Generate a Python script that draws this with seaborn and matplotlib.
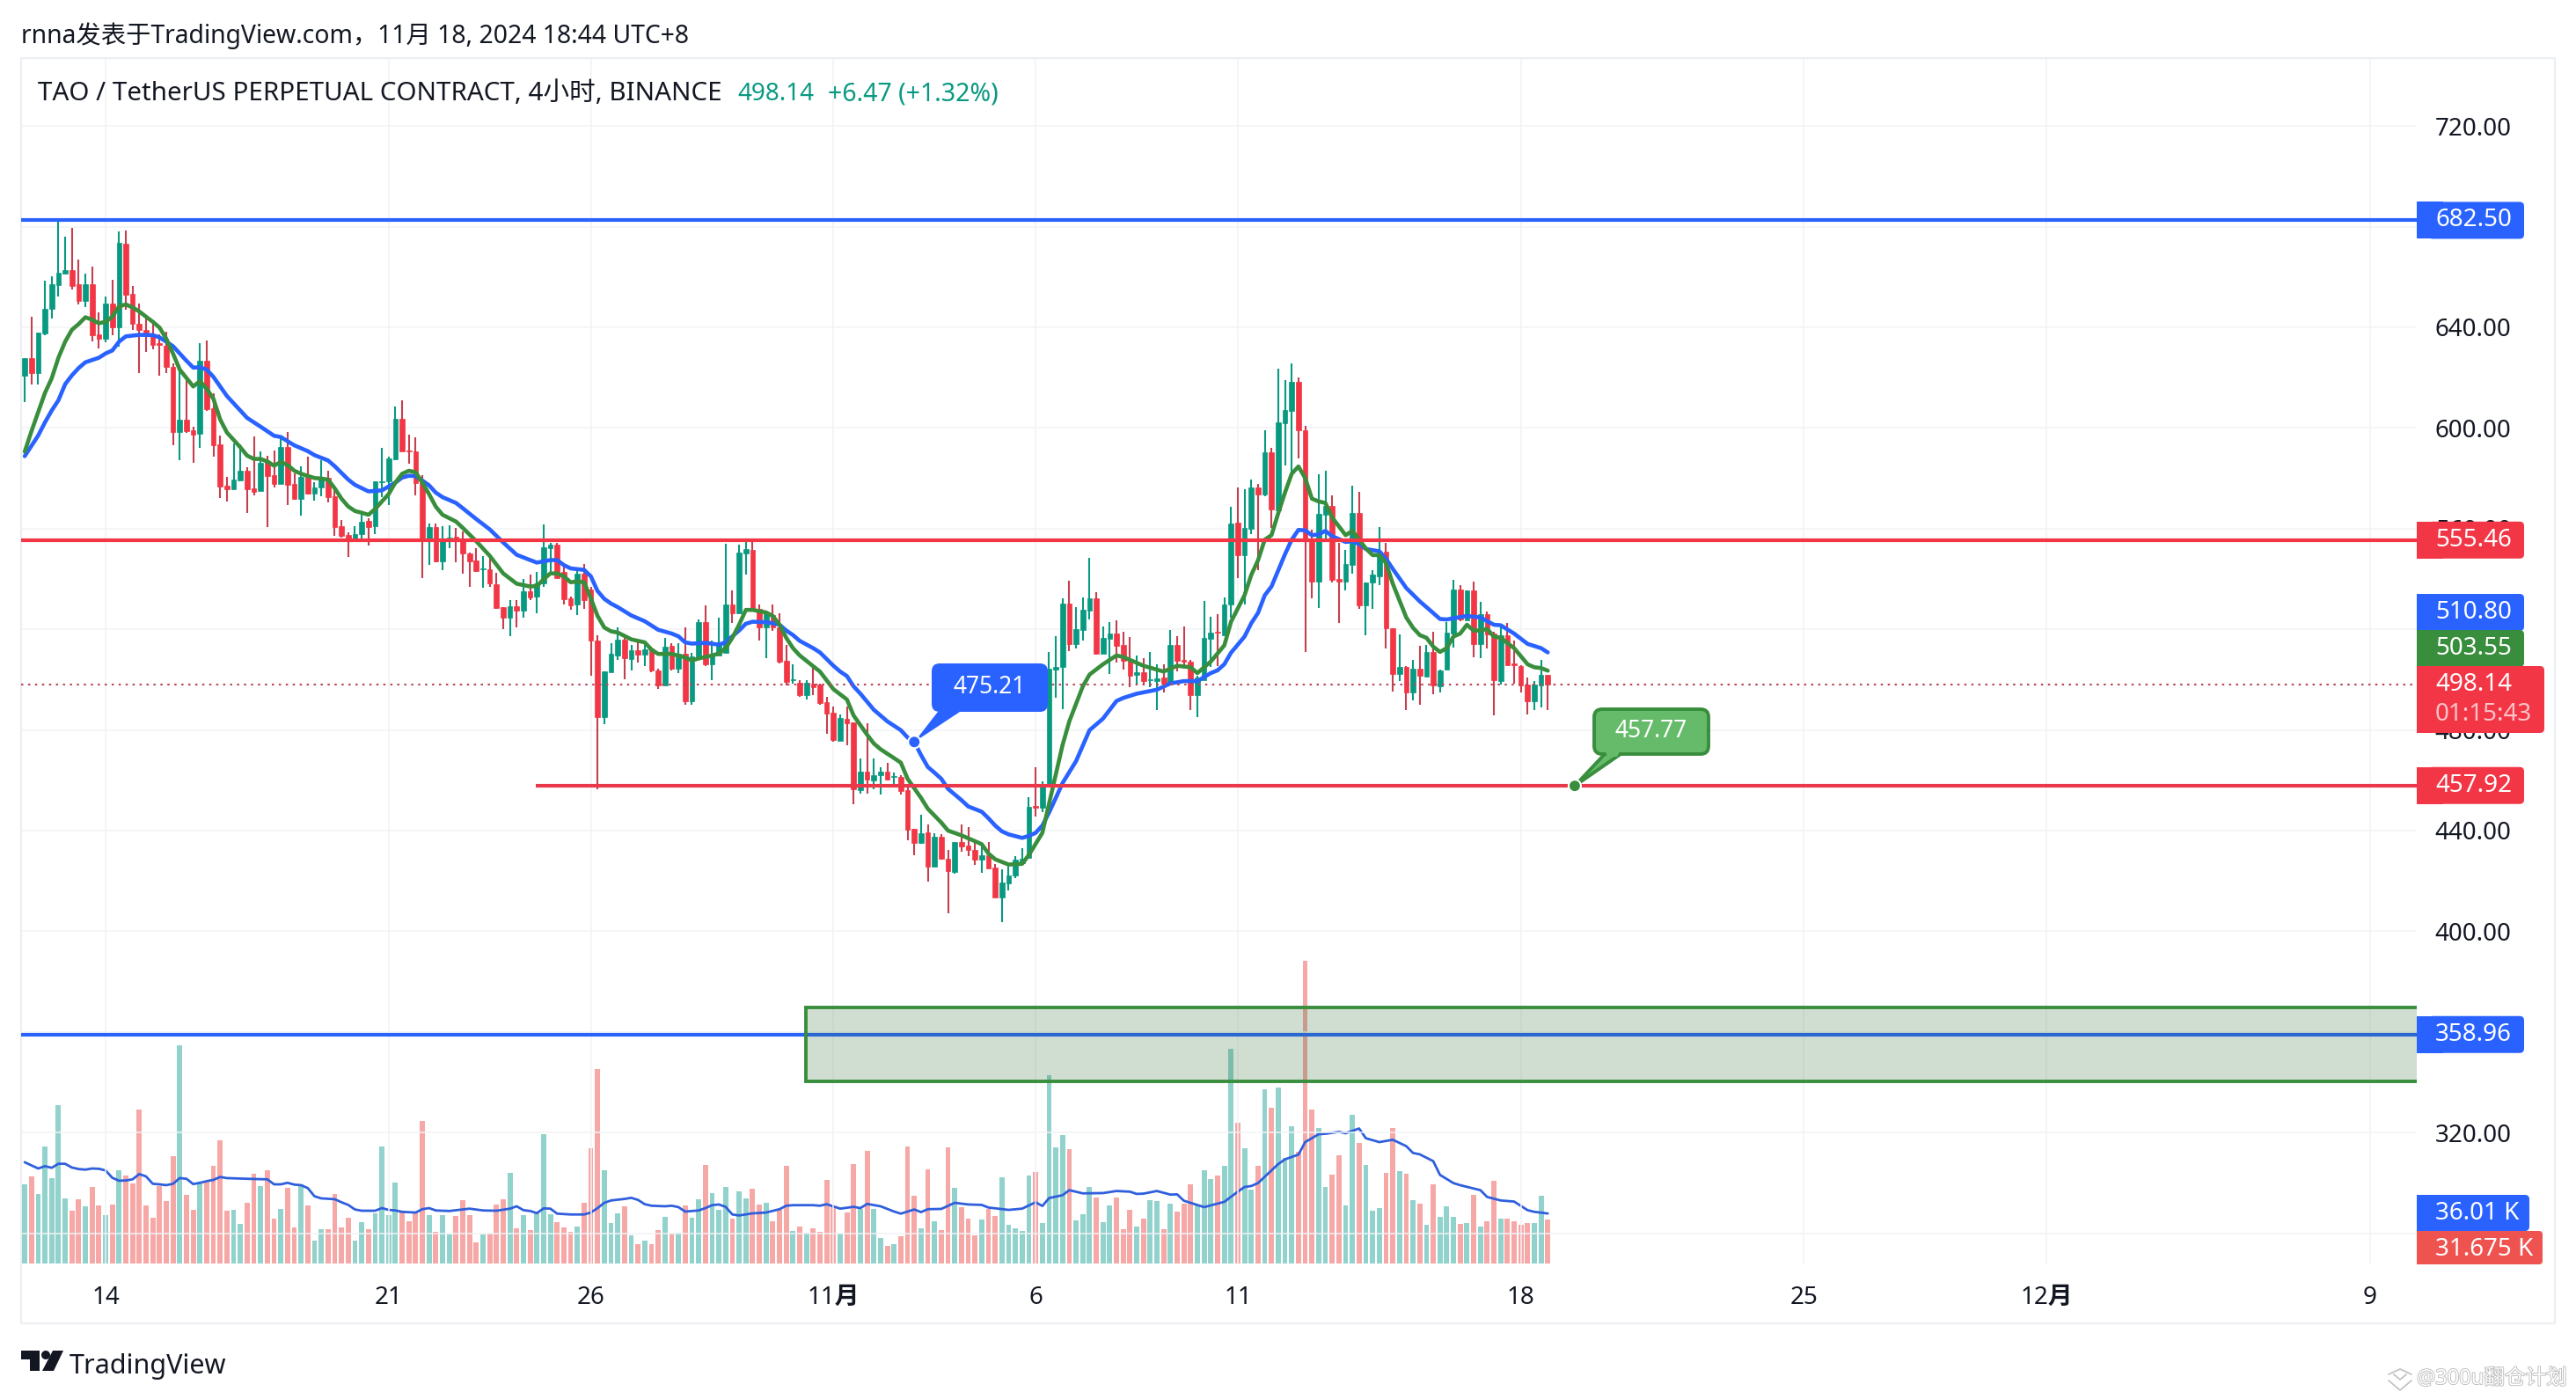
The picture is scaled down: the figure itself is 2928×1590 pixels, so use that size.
import matplotlib
matplotlib.use("Agg")
import matplotlib.pyplot as plt
import matplotlib.patheffects as pe
from matplotlib.patches import Rectangle, Polygon, FancyBboxPatch, Circle
from matplotlib.transforms import IdentityTransform
import numpy as np
import pandas as pd
import seaborn as sns

# ---------- data ----------
opens = [620.7,627.6,621.8,637.4,647.5,656.8,661.4,662.6,657,650.6,
657,637.1,635.6,649.3,640,673.3,653.2,641.5,639,637.2,
633.7,632.8,624.1,598.5,603.4,599,597.8,626.7,607.8,593.5,
577.1,575.8,579.3,583,576,574.9,586.5,581.3,577.8,592.3,
577.8,571.9,580.7,574,576.2,580.3,572.8,560.9,557.4,555.4,
557.7,563,561.1,578.3,578.7,587.7,603.6,591.2,590.6,578.3,
555,560.6,546.9,555.4,556.8,555.6,550.1,547.5,543.7,543.7,
537.9,528.8,524.7,529,527.3,535,532.9,538.1,552.1,553.6,
542.8,532.3,529.8,542.2,535.8,515.4,485.1,503,509.6,516,
508.2,511.7,510,512.5,503.8,497.6,513.4,504.3,510.4,491.3,
509,522.8,506.1,509.6,510.8,530,526.3,550,551.5,528,
520.9,525.6,520.9,507.4,499.7,498.8,493.9,498.5,498,491,
486.9,475.8,484.5,483.1,456,463.5,459.8,462.2,463.5,461.5,
461.5,456,440.6,435.2,439.3,425.7,437.7,428.9,423.6,435.6,
434.1,432.4,428.4,430.1,425.3,413.4,419,422,427.2,429.2,
449.8,449,457.9,504,504.9,530.2,514.2,519.8,527.4,532.3,
510.4,516.3,518.3,513.9,507.8,502,502.9,499.7,499.4,500.8,
498.5,513.6,507.8,507.2,493.8,499.7,516.3,518.9,517.7,529.7,
562.3,549.5,560,576.4,573.4,590.2,567.3,602,606.9,618.3,
599,555.6,539.1,565.5,569,539.9,539.1,545.7,566.1,529.4,
538.5,541,550.7,520.4,502.4,504.9,495,504.3,501.2,511.1,
497.3,504.1,518.3,535.8,523.6,535.4,514,526.1,518.3,499.4,
517.7,506.3,505.5,497.9,491.5,497.6,501.8]

highs = [627.9,644.2,637.8,658.4,660.2,682.7,675.9,679.4,666.8,661.2,
664,646,652.1,658.8,678,678.3,656.3,649.4,643.6,642.8,
637.2,638.4,625.8,625,618.9,600.5,633.7,634.6,613.9,597,
580.7,593.7,593.5,584.4,596.6,590.6,588.8,591.1,595.8,598.5,
581.8,584.8,588.5,578.3,587.1,583,575.4,563.4,558.5,560.9,
565.5,564,578.7,592,588.5,608.4,610.9,597.3,596.2,581.3,
562,562,561.1,561.2,560.3,558.9,550.4,552.1,549.2,549.2,
542.4,528.8,531.7,531.7,539.9,541.6,542.8,561.7,554.4,554.4,
546.3,532.9,544,546,537,517.7,503.2,514.3,520.9,516.6,
513.9,514.8,515.4,513.1,504.3,516.6,514.5,514.5,520.7,510.8,
523.9,529.4,515.4,524.7,553.9,535.4,553.5,555,555,529.8,
526.7,529.8,526.3,513.7,506.1,499.7,499.7,505.5,498.5,493,
489.2,486,489.2,483.1,468.8,482.8,468.8,465.1,466.8,463,
462.2,457.7,440.6,446.4,442.6,439.1,438.5,432.3,435.6,442.6,
441.4,435.6,433.8,435.6,426.8,424.5,426,429.8,433,453.4,
465.1,459.5,511,517.1,532.3,539.3,528.8,532.5,548.4,534.6,
521,522.7,523.6,518.9,516.9,509.6,508.4,511,506.1,506.1,
519.7,517.1,521.2,507.8,501.4,531.1,525,525.9,532.5,568.7,
576.4,575.7,579.5,577.8,599.1,592.1,623.6,618.9,625.5,619.9,
600.7,559.7,581.5,583,573.1,554.2,551.5,576.9,574.5,538.5,
543.4,560.5,554.2,520.4,518,505.3,507.8,513.3,513.9,518.9,
504.1,523,539.5,537.4,535.4,539.1,530.8,527,518.9,520.6,
522.6,515.4,505.7,500.8,499.4,508,502]

lows = [610.2,617.2,617.2,637,643.6,652.4,661.4,654.9,649.1,648.2,
634.5,631.7,634,637,632.2,647.1,639,621.8,630.2,631.4,
620.9,621.8,593.1,587.3,598.2,586.3,592,606.9,588.5,572.3,
570.8,575.8,579.3,566.3,573.1,574.9,560.6,576.4,577.8,569.3,
571.4,565.3,573.4,571,572.8,570.5,557.1,556.6,548.6,555,
555.6,553.3,558,572.5,569.3,587.3,590.8,585.9,573.3,540.5,
545.7,546.6,543.4,552.4,546.5,542.2,536.7,542.8,536.4,537,
528.2,520.1,517.1,520.7,524.5,531.7,526.5,537,541.6,540.2,
529.8,527.6,525.5,528.2,501.4,456.6,482.2,503,507.8,500.3,
503.8,506.7,505.3,503,496.4,497.6,503.8,502.6,490.1,490.1,
508.8,505.3,499.7,509.6,510.8,522.4,526.3,541.6,527.7,515.6,
508.4,519.5,506.4,497.6,498.3,493.3,492.1,493.9,490.1,478.5,
475.2,475.8,474,450.4,454.6,454.8,456.6,454.5,460.1,457.4,
454.2,436,430.1,434.8,419.8,425.7,428.6,407.3,422.8,431.5,
429.8,426.5,423.1,424.9,413.4,403.5,416.1,421,426.8,429.2,
445.7,447.2,457.7,492.9,488.4,511.3,512.5,515.4,523.9,509.9,
510.4,502.2,506.7,504.1,497.1,498.5,497.9,497.1,487.8,495,
498.5,503.2,504.3,488,485.1,499.7,504.9,505.5,517.7,524.7,
540.5,530,557.9,543.4,573,560.3,567.3,585.1,582.4,588,
511.1,532.3,528.6,555.6,538.7,522.4,535.6,542.2,528.2,517.7,
528.2,537.5,512.5,495.3,499.4,487.8,491.9,490.1,501.2,494.1,
495,504.1,512.8,523.3,523.6,508.8,508.4,512.5,485.7,497.9,
505.3,498.5,495,486,488,488.9,488]

closes = [627.9,621.8,637.8,647.5,657,661.7,662.6,656.4,650.6,657,
637,635.6,649.3,640.1,673.6,652.9,641.5,639,636.9,633.1,
633.1,624.1,598.5,603.4,598.8,597.3,626.7,607.5,593.3,576.8,
575.7,579.5,583,575.8,574.6,586.3,581,577.8,592.3,577.5,
571.7,580.7,573.9,576.4,580.3,572.5,560.7,557,555.6,557.7,
562.8,560.6,578.7,578.9,588,603.6,590.8,590.8,578,555.6,
560.6,547.1,555.9,556.6,555.4,550,547.1,543,544.2,538.1,
528.6,524.7,529,527.3,535,532.5,538.4,552.5,553.6,540.5,
532.1,529.6,542.2,531.7,515.4,485.1,503.2,510.4,515.8,508.4,
511.7,510,512.2,503.5,497.6,513.1,504.3,510.4,491.3,509.2,
522.8,506.1,509.6,514.8,530,526.3,550.4,551.9,528,520.9,
526.5,520.7,507.3,499.1,500,493.9,498.8,497.1,490.7,486.6,
476.1,484.8,482.8,456.6,463.5,460.3,462.2,463.5,460.3,461.7,
455.7,440.5,435.2,439.1,425.7,437.7,428.9,423.9,435.3,433.8,
432.4,428.4,430.1,425.1,413.4,419.3,422.2,428.4,428.8,449.3,
449.2,457.7,504.3,504.9,530.2,514.2,520.1,527.6,532.3,510.2,
516.6,518.3,513.4,507.6,501.6,502.9,499.3,500.1,500.6,498.5,
513.6,507.6,507.2,493.8,500.8,516.6,518.5,518.5,529.7,562,
549.5,560.3,576.4,573.7,590.2,567.5,602.2,607.1,618.3,599,
555,539.1,565.9,569,539.5,539.1,545.9,566.1,529.4,538.5,
541.6,550.7,520.3,502.2,504.9,495,504.3,501.4,511.1,497.6,
503.7,518.5,535.8,523.9,535.4,514.2,526.1,518.1,499.7,517.7,
505.7,505.7,497.6,491.5,497.9,501.8,498.14]

volumes = [56.8,62.5,49.8,84.1,61.2,113.8,46.7,37.8,46.0,41.0,
54.9,41.6,34.6,42.2,67.0,63.1,57.4,110.7,41.6,32.7,
55.5,44.8,77.1,156.9,49.2,38.4,57.4,58.7,70.1,88.5,
37.8,38.4,28.3,43.5,64.4,55.5,67.0,32.1,39.1,54.3,
25.8,56.8,41.6,16.3,24.5,24.5,49.8,25.8,32.7,16.3,
29.6,24.5,35.9,84.1,34.6,58.1,36.5,30.2,36.5,102.4,
34.6,22.6,34.6,20.7,34.0,45.4,34.6,15.0,20.7,21.3,
42.2,46.0,65.0,25.1,34.6,23.9,36.5,92.9,35.3,29.6,
25.8,22.6,26.4,43.5,82.8,139.8,67.0,28.9,35.9,41.0,
20.1,13.7,16.3,13.7,23.9,33.4,21.3,22.0,41.6,32.7,
46.0,70.8,50.5,38.4,54.9,32.1,51.7,46.7,53.6,42.2,
43.5,30.2,38.4,70.1,23.7,26.8,22.0,25.1,22.6,60.0,
41.2,21.3,36.5,71.4,39.5,80.9,39.1,18.2,12.5,13.7,
19.4,84.1,48.6,25.1,67.6,30.2,23.9,83.4,54.3,40.3,
32.1,20.1,31.5,39.5,34.0,61.9,27.7,25.1,23.2,63.1,
65.7,28.9,135.6,83.4,92.3,82.2,30.8,35.3,54.9,47.3,
29.6,41.6,47.3,24.5,38.4,26.4,32.1,45.4,44.8,24.5,
42.9,37.2,42.9,56.8,41.6,67.0,60.6,63.1,70.1,154.4,
101.2,82.8,53.0,70.1,125.2,111.9,126.5,75.8,98.6,80.3,
217.7,110.7,97.4,54.9,63.8,77.7,41.6,106.9,86.6,70.8,
37.8,39.7,65.0,97.4,66.3,64.4,45.4,42.9,27.7,56.8,
33.4,41.0,33.4,28.3,28.9,49.2,26.4,30.2,59.3,32.1,
32.1,30.2,27.7,28.9,28.9,48.6,31.675]

slow_idx = [0,1,2,3,4,5,6,7,8,9,10,11,12,13,14,15,17,19,20,21,22,24,25,26,27,28,30,31,33,35,37,38,40,42,43,45,46,48,49,51,53,55,56,57,58,59,60,61,62,64,65,67,69,71,73,
75,76,78,79,80,81,83,84,85,86,87,88,90,92,94,96,97,98,99,101,103,104,105,106,107,108,110,111,112,113,114,115,117,118,120,121,122,123,124,126,128,130,131,132,133,134,135,136,137,139,140,142,143,144,145,146,148,149,150,151,152,153,154,
156,158,160,162,163,165,168,170,172,174,176,177,178,179,181,182,183,184,185,186,187,188,189,190,191,192,193,194,196,197,198,199,201,202,203,205,207,208,210,211,212,214,216,218,219,221,223,225,226]
slow_ema = [588.8,592.9,597,602.2,606.9,611,617.4,620.9,623.8,626.1,627,627.9,629.6,630.8,634.3,636.4,637,636.9,636,634.3,632.5,626.7,624,624.1,623.2,620.3,612.7,609.8,604,600.5,596.9,596.4,593.1,590.8,589.2,587.1,584.8,579.5,577.4,574.8,575.2,578.3,580.3,581,580.9,579.1,577.2,574.3,572.5,570.2,568.1,563.8,559.7,554.5,549.6,
547.5,546.5,547.5,547.5,545.5,544.2,543.6,541.05,535.2,532.1,530.2,528.8,525.5,523.2,519.8,518.3,517.2,514.8,514.3,514.6,513.9,514.8,517.2,519.5,522.2,523,522.8,522.4,521.8,519.5,517.7,515.4,512.5,510.8,505.5,503.2,501.4,497.3,494.4,488,483.4,479.9,477,475.21,470,465.3,463,460.6,456.6,452.1,449.6,447.5,444.9,442,439.7,438.5,437.1,437.9,439.1,442,447.2,453,458.9,
467.6,479.9,484.5,491.5,492.7,494.4,496,498.5,499.4,499.4,502.6,503.7,506.1,510.7,517.1,522.4,526.5,533.5,537,543.4,549.8,555.6,559.5,559.3,557.4,557.7,559.1,557,554.7,555,553.9,551.9,551,548,544,536.4,531.1,528.8,524.1,523.9,524.4,525.3,524.7,521.8,521.6,518.3,514.2,512.5,510.8]

fast_idx = [0,1,2,3,4,5,6,7,8,9,10,11,12,13,14,15,16,17,18,19,20,21,22,23,25,26,27,28,29,30,32,33,34,35,36,37,38,39,40,41,43,44,45,46,47,48,49,50,51,52,53,54,55,56,57,58,59,60,61,62,64,65,67,69,70,71,73,
75,76,77,78,79,80,81,82,83,84,85,86,87,88,90,92,93,94,96,98,99,100,102,103,104,105,106,107,108,110,111,112,113,114,115,117,118,119,120,122,123,125,126,127,129,130,131,133,134,136,137,139,141,142,143,144,146,148,149,151,152,153,154,155,156,157,
158,160,162,163,166,169,171,173,174,176,178,179,181,182,183,184,185,186,187,188,189,190,191,192,193,194,195,196,197,198,199,200,201,202,203,205,206,207,208,209,210,211,212,213,214,215,216,217,218,219,221,223,224,225,226]
fast_ema = [590.6,598.7,606.3,613.9,619.7,627.9,634.3,639,641.3,644,643,641.6,642.2,644.2,648.3,649.1,647.9,646.3,644.2,642.2,639.9,635.5,629.6,623.2,616.5,618.6,615.6,611.6,603.4,598.2,592.3,589,587.7,587.7,586.7,585,586.5,585.3,583,581.8,580.1,579.9,579.5,576,571.9,568.8,567,566.3,565.5,567.8,570.8,573.7,578.3,581.8,583,582.4,578.3,573.7,568.7,565.5,562.8,560.3,555,549.2,545.7,542.2,538.1,
537,537.2,539.9,542.2,542.2,541.05,538.7,539,538.7,532.3,525.3,520.7,519.2,518.7,516,514.8,511.9,510.2,510.2,508.8,507.6,508.4,509.6,510.4,512.5,516.6,521.8,527.7,527.7,526.7,525.3,521.8,516.6,512.5,509.6,505.3,503.2,499.7,496.2,492.1,485.7,478.1,474.6,472.3,468.8,467,460.6,453,448.7,443.2,440,438.1,435.8,434.6,430.9,428.6,426.5,426.8,430.3,439.1,450.7,462.4,474,483.4,490.4,497.3,
502,506.1,509.6,509,505.5,503.2,505.5,504.9,502.6,507.2,513.6,523,533.5,541.6,547.4,555.6,557.4,566.1,574.3,581.8,584.7,580.1,571.9,570.8,570.2,564.4,560.9,557.4,559.1,555.6,552.1,549.5,549.5,546.3,538.1,524.7,520.6,517.7,516.6,513.1,511,512.5,517.1,518.3,521.8,519.5,519.5,520.1,517.1,516.6,512.5,506.1,504.9,504.6,503.55]

volma_idx = [0,2,3,4,5,6,7,8,9,10,11,12,13,14,15,16,17,18,19,20,21,22,23,24,25,26,27,28,29,30,33,36,37,38,39,40,41,42,43,44,46,47,48,49,50,52,53,54,55,56,58,59,60,61,63,65,66,68,70,72,73,74,75,76,77,78,79,81,83,84,85,86,87,89,90,91,92,93,95,96,97,98,100,101,102,103,104,105,106,108,110,112,113,
114,117,118,119,121,123,124,125,127,129,130,132,133,134,136,138,140,142,143,146,148,150,151,152,154,155,157,160,162,164,165,166,168,170,171,172,175,178,180,181,182,183,186,187,189,190,192,193,195,196,198,199,201,203,205,206,207,209,210,212,213,216,217,219,221,223,224,226]
volma = [72.9,68.4,70.1,68.9,71.8,71.8,69.1,68,67.6,68.4,68.2,67,61.7,59.6,59.8,60.6,64.4,62.7,57.4,57,56.4,57.4,61.5,61,57.2,58.1,59.3,60.2,62.3,61.5,61,60.6,57,57,58.1,56.8,56.4,54.3,48.4,46.9,46.3,44.1,42.2,38.9,38,38,39.9,38.6,38.2,37.2,36.7,39.1,39.9,38.2,37.8,38.9,39.5,38.2,38,39.5,41.2,38.4,37.8,36.3,39.7,39.5,35.9,35.3,35.3,36.7,39.9,43.7,45.4,46.5,47.3,45.8,42.7,41.6,41.2,41.6,40.6,37.4,38.2,39.9,42,42.5,40.8,35.3,34.6,36.1,36.7,39.1,41.6,
42,42,41.6,42.7,39.5,40.8,39.9,42.9,41.2,37.4,35.9,38.9,37,39.1,39.3,43.7,42.5,42.2,40.3,38.6,39.5,44.1,41.4,47.1,49.2,52.8,50.5,50.7,52.2,51.7,50.1,50.3,52.2,49.6,49.8,45.2,40.6,44.4,51.7,55.1,55.8,57.9,71.6,75,78.4,87.4,93.1,93.4,94.8,93.8,97.2,90.2,87.4,89.1,84.5,79.6,78.6,73.7,63.8,57.9,56.4,52.8,47.9,45.4,44.6,38.4,37.2,36.01]

price_ticks = [720,680,640,600,560,520,480,440,400,360,320,280]
date_ticks = [12,54,84,120,150,180,222,264,300,348]
date_labels = ['14','21','26','11月','6','11','18','25','12月','9']
bold_dates = ['11月','12月']

level_top = 682.50
level_mid = 555.46
level_low = 457.92
level_base = 358.96
zone_high = 369.7
zone_low = 340.4
last_price = 498.14

GREEN = '#089981'
RED = '#f23645'
BLUE = '#2962ff'
EMA_GREEN = '#388e3c'
TXT = '#131722'
GRID = '#f1f2f5'

# ---------- figure ----------
sns.set_theme(style='white')
FONT = ['Noto Sans', 'Noto Sans CJK SC', 'DejaVu Sans']
plt.rcParams['font.family'] = FONT
W, H = 2928, 1590
fig = plt.figure(figsize=(W/100, H/100), dpi=100, facecolor='white')
ax = fig.add_axes([24/W, (H-1437)/H, 2723/W, 1371/H])
ax2 = ax.twinx()
ax.set_zorder(2); ax2.set_zorder(1); ax.patch.set_visible(False)

idx = np.arange(len(closes))
frame = pd.DataFrame({'i': idx, 'open': opens, 'high': highs, 'low': lows, 'close': closes, 'vol': volumes})
frame['dir'] = np.where(frame['close'] >= frame['open'], 'up', 'down')

# volume
sns.barplot(data=frame, x='i', y='vol', hue='dir', native_scale=True, dodge=False, width=0.76,
            palette={'up': '#26a69a', 'down': '#ef5350'}, alpha=0.5, saturation=1, linewidth=0,
            legend=False, ax=ax2, errorbar=None)
sns.lineplot(x=volma_idx, y=volma, color='#2f5fdc', linewidth=2.0, ax=ax2, legend=False, zorder=3, errorbar=None)
ax2.set_ylim(-0.63, 867.9)
ax2.set_yticks([]); ax2.set_ylabel(''); ax2.set_xlabel('')

# candles
up = frame[frame['dir'] == 'up']; dn = frame[frame['dir'] == 'down']
ax.vlines(up['i'], up['low'], up['high'], color=GREEN, linewidth=1.5, zorder=3)
ax.vlines(dn['i'], dn['low'], dn['high'], color='#c4404f', linewidth=1.5, zorder=3)
ax.bar(up['i'], (up['close']-up['open']).abs(), bottom=up['open'], width=0.74, color=GREEN, edgecolor=GREEN, linewidth=0.5, zorder=4)
ax.bar(dn['i'], (dn['open']-dn['close']).abs(), bottom=dn['close'], width=0.74, color=RED, edgecolor=RED, linewidth=0.5, zorder=4)

# moving averages
sns.lineplot(x=slow_idx, y=slow_ema, color=BLUE, linewidth=3.3, ax=ax, legend=False, zorder=5, errorbar=None)
sns.lineplot(x=fast_idx, y=fast_ema, color=EMA_GREEN, linewidth=3.3, ax=ax, legend=False, zorder=6, errorbar=None)

xmin, xmax = -0.535, 354.94
ax.set_xlim(xmin, xmax); ax2.set_xlim(xmin, xmax)
ax.set_ylim(267.62, 746.99)

# levels
ax.axhline(last_price, color='#b8475a', linewidth=1.5, linestyle=(0, (1.2, 2.6)), zorder=6.5)
ax.axhline(level_top, color=BLUE, linewidth=3.0, zorder=7)
ax.axhline(level_mid, color=RED, linewidth=3.0, zorder=7)
ax.axhline(level_base, color=BLUE, linewidth=3.0, zorder=7)
ax.hlines(level_low, 75.8, xmax, color='#e8384a', linewidth=3.0, zorder=7)
ax.add_patch(Rectangle((115.9, zone_low), xmax+5-115.9, zone_high-zone_low, facecolor=(0.216, 0.455, 0.231, 0.23),
                       edgecolor=EMA_GREEN, linewidth=2.8, zorder=8))

# axes styling
ax.yaxis.tick_right()
ax.set_yticks(price_ticks)
ax.set_yticklabels([f'{p:.2f}' for p in price_ticks])
ax.set_xticks(date_ticks)
ax.set_xticklabels(date_labels)
ax.tick_params(axis='y', length=0, pad=15, labelsize=20, labelcolor=TXT, labelright=True, labelleft=False)
ax.tick_params(axis='x', length=0, pad=17, labelsize=20, labelcolor=TXT)
for t in ax.get_xticklabels():
    if t.get_text() in bold_dates:
        t.set_fontweight('bold')
ax.grid(True, color=GRID, linewidth=1.1)
ax.set_axisbelow(True)
ax.set_xlabel(''); ax.set_ylabel('')
for a in (ax, ax2):
    for s in a.spines.values():
        s.set_visible(False)
ax2.tick_params(axis='x', length=0, labelbottom=False)

# ---------- pixel helpers ----------
ID = IdentityTransform()
def P(x, y):
    return (x, H - y)
def ptext(x, y, s, **kw):
    kw.setdefault('color', TXT); kw.setdefault('fontsize', 20); kw.setdefault('va', 'center'); kw.setdefault('ha', 'left')
    kw.setdefault('zorder', 20)
    return fig.text(x, H - y, s, transform=ID, **kw)
def padd(artist):
    artist.set_transform(ID)
    fig.add_artist(artist)
def data_y(price):
    return H - ax.transData.transform((0, price))[1]
def data_pt(i, price):
    px = ax.transData.transform((i, price))
    return px[0], H - px[1]

# outer frame
padd(Rectangle(P(24, 1504), 2880, 1438, fill=False, edgecolor='#eceef2', linewidth=1.6, zorder=1))

def tag(y0, y1, x1, color, r=5):
    padd(FancyBboxPatch(P(2760, y1), x1-2760, y1-y0, boxstyle=f'round,pad=0,rounding_size={r}',
                        facecolor=color, edgecolor=color, linewidth=0, zorder=15))
    padd(Rectangle(P(2747, y1), 30, y1-y0, facecolor=color, edgecolor=color, linewidth=0, zorder=15))

def price_tag(s, color, price=None, y=None):
    y = data_y(price) if y is None else y
    tag(y-21, y+21, 2869, color)
    ptext(2768, y, s, color='white')

price_tag('682.50', BLUE, price=level_top)
price_tag('555.46', RED, price=level_mid)
price_tag('510.80', BLUE, y=696)
price_tag('503.55', EMA_GREEN, y=737)
price_tag('457.92', RED, price=level_low)
price_tag('358.96', BLUE, price=level_base)
tag(757, 833, 2892, RED)
ptext(2768, 778, '498.14', color='white')
ptext(2768, 812, '01:15:43', color='#fdc2c8')
tag(1358, 1399, 2875, BLUE)
ptext(2768, 1379, '36.01 K', color='white')
tag(1399, 1437, 2890, '#ef5350', r=4)
ptext(2768, 1420, '31.675 K', color='white')

# callouts
def callout(i, price, s, box, tail, face, edge, dot, edge_w):
    ax_, ay_ = data_pt(i, price)
    x0, y0, x1, y1 = box
    padd(Polygon([P(ax_, ay_), P(*tail[0]), P(*tail[1])], closed=True, facecolor=face, edgecolor=edge, linewidth=edge_w, zorder=16))
    padd(FancyBboxPatch(P(x0, y1), x1-x0, y1-y0, boxstyle='round,pad=0,rounding_size=9', facecolor=face, edgecolor=edge, linewidth=edge_w, zorder=16))
    padd(Polygon([P(tail[0][0]+1, tail[0][1]-3), P(tail[1][0]-1, tail[1][1]-3), P(tail[1][0]-4, tail[1][1]+3), P(tail[0][0]+3, tail[0][1]+3)], closed=True, facecolor=face, edgecolor='none', zorder=17))
    padd(Circle(P(ax_, ay_), 7, facecolor=dot, edgecolor='white', linewidth=1.5, zorder=18))
    ptext((x0+x1)/2, (y0+y1)/2, s, color='white', ha='center', fontsize=19, fontweight='bold')

callout(132, 475.21, '475.21', (1059, 754, 1191, 809), ((1066, 809), (1091, 809)), BLUE, BLUE, BLUE, 0)
callout(230, 457.77, '457.77', (1812, 806, 1942, 857), ((1824, 857), (1842, 857)), '#66bb6a', EMA_GREEN, EMA_GREEN, 2.8)

# header
ptext(24, 41, 'rnna发表于TradingView.com，11月 18, 2024 18:44 UTC+8', fontsize=20.4)
ptext(43, 107, 'TAO / TetherUS PERPETUAL CONTRACT, 4小时, BINANCE', fontsize=21.3)
ptext(838, 107, '498.14', fontsize=20, color=GREEN)
ptext(941, 107, '+6.47 (+1.32%)', fontsize=20.5, color=GREEN)

# logo
LOGO = '#131722'
padd(Polygon([P(24, 1535), P(45, 1535), P(45, 1558), P(34, 1558), P(34, 1545), P(24, 1545)], closed=True, facecolor=LOGO, edgecolor='none', zorder=20))
padd(Circle(P(52, 1540), 5, facecolor=LOGO, edgecolor='none', zorder=20))
padd(Polygon([P(60, 1535), P(72, 1535), P(61, 1558), P(48, 1558)], closed=True, facecolor=LOGO, edgecolor='none', zorder=20))
ptext(79, 1553, 'TradingView', fontsize=22)

# watermark
wm = ptext(2747, 1567, '@300u翻仓计划', fontsize=17, color='white')
wm.set_path_effects([pe.withStroke(linewidth=1.2, foreground='#b8b8b8')])
for pts in ([(2715, 1569), (2728, 1580), (2741, 1569)], [(2721, 1562), (2728, 1568), (2735, 1562)], [(2715, 1562), (2728, 1556), (2741, 1562)]):
    fig.add_artist(plt.Line2D([p[0] for p in pts], [H-p[1] for p in pts], transform=ID, color='#c4c4c4', linewidth=1.3, zorder=20))

fig.savefig('out.png', dpi=100, facecolor='white')
